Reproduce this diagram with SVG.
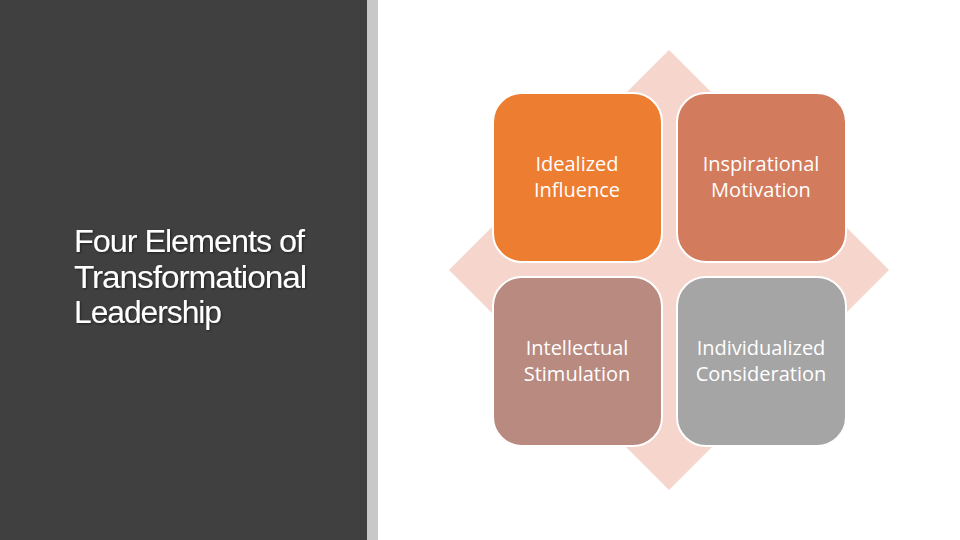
<svg xmlns="http://www.w3.org/2000/svg" width="960" height="540" viewBox="0 0 960 540">
<defs>
<style>
.box{stroke:#ffffff;stroke-width:2}
.lbl{font-family:"Open Sans","Liberation Sans",sans-serif;font-size:20px;fill:#ffffff;text-anchor:middle}
.title{font-family:"Liberation Sans",sans-serif;font-size:31px;fill:#ffffff;letter-spacing:-1px}
</style>
<filter id="sh" x="-10%" y="-10%" width="120%" height="130%">
<feDropShadow dx="1" dy="1" stdDeviation="0.8" flood-color="#000000" flood-opacity="0.5"/>
</filter>
</defs>
<rect x="0" y="0" width="960" height="540" fill="#ffffff"/>
<rect x="0" y="0" width="367" height="540" fill="#404040"/>
<rect x="367" y="0" width="11" height="540" fill="#c8c8c8"/>
<g id="title" filter="url(#sh)">
<text class="title" x="74" y="252" textLength="230" lengthAdjust="spacingAndGlyphs">Four Elements of</text>
<text class="title" x="74" y="288" textLength="232" lengthAdjust="spacingAndGlyphs">Transformational</text>
<text class="title" x="74" y="323" textLength="147" lengthAdjust="spacingAndGlyphs">Leadership</text>
</g>
<g id="background-diamond">
<polygon points="669,50 889,270 669,490 449,270" fill="#f6d5cc"/>
</g>
<g id="node-idealized">
<rect class="box" x="493" y="93" width="169" height="169" rx="29" fill="#ed7d31"/>
<text class="lbl" x="577" y="171">Idealized</text>
<text class="lbl" x="577" y="197">Influence</text>
</g>
<g id="node-inspirational">
<rect class="box" x="677" y="93" width="169" height="169" rx="29" fill="#d27b5d"/>
<text class="lbl" x="761" y="171">Inspirational</text>
<text class="lbl" x="761" y="197">Motivation</text>
</g>
<g id="node-intellectual">
<rect class="box" x="493" y="277" width="169" height="169" rx="29" fill="#b88a80"/>
<text class="lbl" x="577" y="355">Intellectual</text>
<text class="lbl" x="577" y="381">Stimulation</text>
</g>
<g id="node-individualized">
<rect class="box" x="677" y="277" width="169" height="169" rx="29" fill="#a5a5a5"/>
<text class="lbl" x="761" y="355">Individualized</text>
<text class="lbl" x="761" y="381">Consideration</text>
</g>
<g id="connectors"></g>
</svg>
